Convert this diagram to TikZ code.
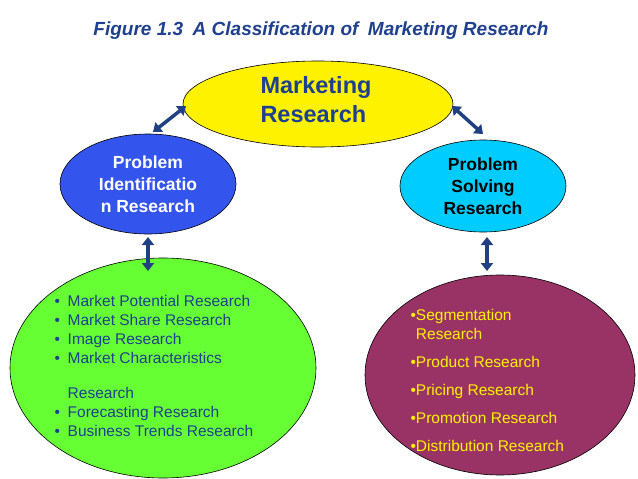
\documentclass[tikz,border=0pt]{standalone}
\usepackage{fontspec}
\setmainfont{Liberation Sans}
\usetikzlibrary{shapes.geometric,arrows.meta}
\definecolor{titleblue}{HTML}{1F3F8F}
\definecolor{probblue}{HTML}{3355EE}
\definecolor{solvcyan}{HTML}{00CCFF}
\definecolor{leafgreen}{HTML}{66FF33}
\definecolor{plum}{HTML}{993366}
\definecolor{arrowblue}{HTML}{2E5CB8}
\begin{document}
\begin{tikzpicture}[x=1pt,y=-1pt]
  \tikzset{BlobStyle/.style = {
    shape         = ellipse,
    draw          = black,
    line width    = 0.6pt,
    inner sep     = 0pt
    }
  }
  \tikzset{LinkStyle/.style = {
    {Triangle[length=8pt,width=12pt]}-{Triangle[length=8pt,width=12pt]},
    draw          = arrowblue!70!black,
    line width    = 3.5pt
    }
  }
  \useasboundingbox (0,0) rectangle (638,479);

  \node[font=\fontsize{19}{23}\selectfont\bfseries\itshape, text=titleblue](Title) at (321,31)
    {Figure 1.3\enspace A Classification of\enspace Marketing Research};

  \node[BlobStyle, fill=yellow, minimum width=270pt, minimum height=86pt](MR) at (318,104) {};
  \node[font=\fontsize{23.5}{29}\selectfont\bfseries, text=titleblue, align=left](MRText) at (316,100) {Marketing\\Research};

  \node[BlobStyle, fill=probblue, minimum width=176pt, minimum height=100pt, text=white,
        font=\fontsize{17.5}{22}\selectfont\bfseries, align=center](PI) at (148,184) {Problem\\Identificatio\\n Research};
  \node[BlobStyle, fill=solvcyan, minimum width=166pt, minimum height=92pt,
        font=\fontsize{17.5}{22}\selectfont\bfseries, align=center](PS) at (483,186) {Problem\\Solving\\Research};

  \node[BlobStyle, fill=leafgreen, minimum width=306pt, minimum height=220pt](PIL) at (163,368) {};
  \node[text=titleblue, align=left, font=\fontsize{15.5}{19}\selectfont, anchor=north west](PIText) at (51,292)
    {\textbullet\enspace Market Potential Research\\
     \textbullet\enspace Market Share Research\\
     \textbullet\enspace Image Research\\
     \textbullet\enspace Market Characteristics\\[16pt]
     \phantom{\textbullet\enspace}Research\\
     \textbullet\enspace Forecasting Research\\
     \textbullet\enspace Business Trends Research};

  \node[BlobStyle, fill=plum, minimum width=270pt, minimum height=200pt](PSL) at (500,375) {};
  \node[text=yellow, align=left, font=\fontsize{15.5}{19}\selectfont, anchor=north west](PSText) at (407,306)
    {\textbullet Segmentation\\
     \phantom{\textbullet}Research\\[9pt]
     \textbullet Product Research\\[9pt]
     \textbullet Pricing Research\\[9pt]
     \textbullet Promotion Research\\[9pt]
     \textbullet Distribution Research};

  \coordinate (MRl) at (186,106);
  \coordinate (PIt) at (153,132);
  \coordinate (MRr) at (452,106);
  \coordinate (PSt) at (483,134);
  \coordinate (PIb) at (148,237);
  \coordinate (PILt) at (148,271);
  \coordinate (PSb) at (487,237);
  \coordinate (PSLt) at (487,271);
  \draw[LinkStyle](MRl) -- (PIt);
  \draw[LinkStyle](MRr) -- (PSt);
  \draw[LinkStyle](PIb) -- (PILt);
  \draw[LinkStyle](PSb) -- (PSLt);
\end{tikzpicture}
\end{document}
